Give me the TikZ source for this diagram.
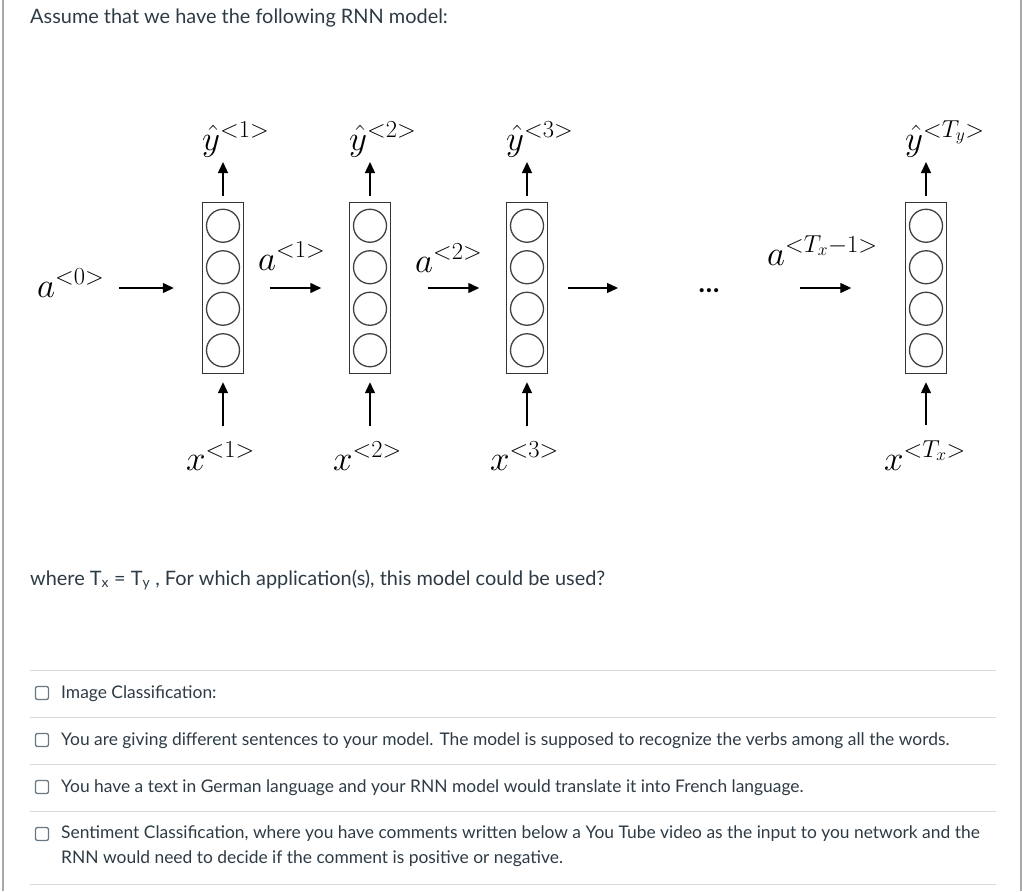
\RequirePackage{fix-cm}
\documentclass[tikz,border=0pt]{standalone}
\usepackage{amsmath}
\usepackage{fontspec}
\setmainfont{Lato}
\usetikzlibrary{positioning,arrows.meta}
\definecolor{canvastext}{HTML}{2D3B45}
\definecolor{rulegray}{HTML}{D5D9DC}
\definecolor{framegray}{HTML}{A8A8A8}
\definecolor{boxgray}{HTML}{6B7780}

\tikzset{
  cell/.style={draw=black!80, line width=1.4pt, minimum width=41pt, minimum height=171pt, inner sep=0pt},
  neuron/.style={circle, draw=black!75, line width=1.3pt, minimum size=33pt, inner sep=0pt},
  flow/.style={-{Triangle[length=11pt,width=10pt]}, line width=1.3pt},
  mlbl/.style={inner sep=0pt, anchor=base west, font=\fontsize{35}{40}\selectfont},
  txt/.style={inner sep=0pt, anchor=base west, text=canvastext},
  chkbox/.style={draw=boxgray, line width=1.3pt, rounded corners=2pt, minimum size=13pt, inner sep=0pt},
  rule/.style={draw=rulegray, line width=1pt}
}

\begin{document}
\begin{tikzpicture}[x=1pt,y=-1pt]
  \useasboundingbox (0,0) rectangle (1022,891);
  \draw[framegray, line width=1.5pt] (3,0) -- (3,891) (1021,0) -- (1021,891);

  \node[txt, font=\fontsize{19.9}{24}\selectfont] (title) at (30,24) {Assume that we have the following RNN model:};

  % RNN cells
  \foreach \k/\cx in {1/223, 2/370, 3/527, 4/926} {
    \node[cell] (c\k) at (\cx,288) {};
    \foreach \dy in {-62.25,-20.75,20.75,62.25}
      \node[neuron] at (\cx,288+\dy) {};
  }

  % outputs and inputs
  \node[mlbl] (y1) at (202,150) {${\hat{y}}^{<1>}$};
  \node[mlbl] (y2) at (349,150) {${\hat{y}}^{<2>}$};
  \node[mlbl] (y3) at (506,150) {${\hat{y}}^{<3>}$};
  \node[mlbl] (y4) at (905,150) {${\hat{y}}^{<T_y>}$};
  \node[mlbl] (x1) at (186,470) {$x^{<1>}$};
  \node[mlbl] (x2) at (333,470) {$x^{<2>}$};
  \node[mlbl] (x3) at (490,470) {$x^{<3>}$};
  \node[mlbl] (x4) at (884,470) {$x^{<T_x>}$};
  \foreach \k in {1,...,4} {
    \draw[flow, shorten <=6pt, shorten >=5pt] (c\k.north) -- (c\k.north |- y\k.south);
    \draw[flow, shorten <=15pt, shorten >=8pt] (c\k.south |- x\k.north) -- (c\k.south);
  }

  % hidden states
  \node[mlbl] (a0) at (37,297) {$a^{<0>}$};
  \node[mlbl] (a1) at (258,270) {$a^{<1>}$};
  \node[mlbl] (a2) at (415,272) {$a^{<2>}$};
  \node[mlbl] (a3) at (767,265) {$a^{<T_x-1>}$};
  \node[inner sep=0pt, anchor=base, font=\fontsize{27}{30}\bfseries] (dots) at (709,292) {…};
  \coordinate (h3) at (618,288);
  \coordinate (h4) at (800,288);
  \draw[flow, shorten <=15pt, shorten >=28pt] (a0.east |- c1.west) -- (c1.west);
  \draw[flow, shorten <=25.5pt, shorten >=27.5pt] (c1.east) -- (c2.west);
  \draw[flow, shorten <=36.5pt, shorten >=26.5pt] (c2.east) -- (c3.west);
  \draw[flow, shorten <=19.5pt] (c3.east) -- (h3);
  \draw[flow, shorten >=53.5pt] (h4) -- (c4.west);

  \node[txt, font=\fontsize{19.9}{24}\selectfont] (question) at (30,585)
    {where T\textsubscript{x} = T\textsubscript{y} , For which application(s), this model could be used?};

  % answer options
  \foreach \ry in {670,717,764,811,884}
    \draw[rule] (30,\ry) -- (996,\ry);
  \foreach \k/\by in {1/693, 2/740, 3/787, 4/834}
    \node[chkbox] (b\k) at (42,\by) {};
  \begin{scope}[every node/.style={txt, font=\fontsize{17.4}{20}\selectfont}]
    \node (o1) at (61,698) {Image Classification:};
    \node (o2) at (61,745) {You are giving different sentences to your model. The model is supposed to recognize the verbs among all the words.};
    \node (o3) at (61,792) {You have a text in German language and your RNN model would translate it into French language.};
    \node (o4) at (61,838) {Sentiment Classification, where you have comments written below a You Tube video as the input to you network and the};
    \node (o4b) at (61,863) {RNN would need to decide if the comment is positive or negative.};
  \end{scope}
\end{tikzpicture}
\end{document}
